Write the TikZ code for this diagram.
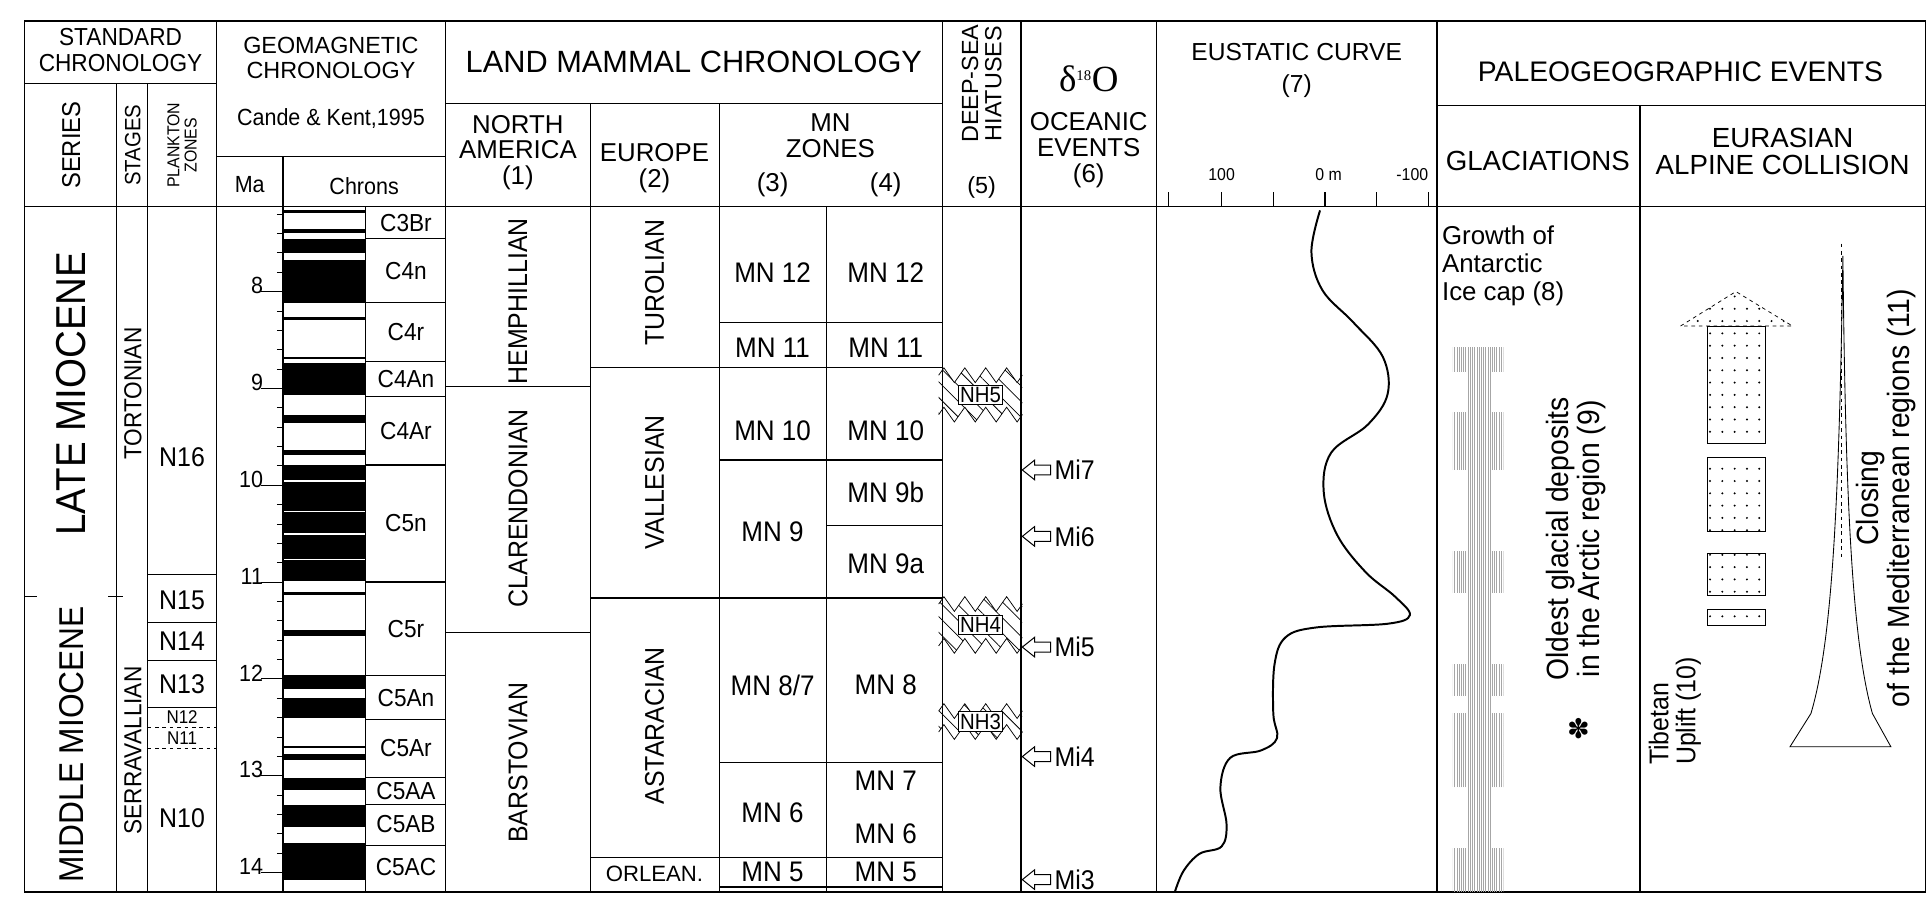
\documentclass[tikz,border=0pt]{standalone}
\usepackage{fontspec}
\setmainfont[FakeStretch=0.92]{Liberation Sans}
\newfontfamily\wideface{Liberation Sans}
\newfontfamily\serifface{Liberation Serif}
\newfontfamily\symfont{DejaVu Sans}
\usetikzlibrary{patterns.meta,decorations.pathmorphing}
\tikzset{
 fs/.style={font=\fontsize{#1}{#1}\selectfont},
 wfs/.style={font=\fontsize{#1}{#1}\selectfont\wideface},
 lbl/.style={inner sep=0pt,align=center},
 rule/.style={line width=1pt},
 band/.style={fill=black},
 ice/.style={pattern={Lines[angle=90,distance=1.8pt,line width=0.8pt]},pattern color=gray!70},
 stipple/.style={draw,line width=0.6pt,pattern={Dots[distance=10pt,radius=0.9pt]}},
 hollowarrow/.style={draw,line width=0.8pt,fill=white},
 hiatus/.style={pattern={Lines[angle=-45,distance=9pt,line width=0.6pt]}},
 zz/.style={decoration={zigzag,segment length=17pt,amplitude=6pt}},
}
\newcommand\miarrow[1]{\draw[hollowarrow] (831,#1) -- (841,#1-8) -- (841,#1-4) -- (854,#1-4) -- (854,#1+4) -- (841,#1+4) -- (841,#1+8) -- cycle;}
\newcommand\hiat[4]{%
 \fill[hiatus] (763,#2) decorate[zz]{-- (831,#2)} -- (831,#3) decorate[zz]{-- (763,#3)} -- cycle;
 \draw[line width=0.6pt] (763,#2) decorate[zz]{-- (831,#2)};
 \draw[line width=0.6pt] (763,#3) decorate[zz]{-- (831,#3)};
 \node[draw,fill=white,inner sep=1.5pt,fs=18,line width=0.7pt] (#1) at (797,{(#2+#3)/2}) {#4};}
\begin{document}
\begin{tikzpicture}[x=1pt,y=-1pt]
\useasboundingbox (0,0) rectangle (1568,731);
% ---------- polarity bands
\foreach \a/\b in {171/173,186/189,194/206,211/246,258/260,290/292,295/321,337/344,366/370,378/472,481/484,512/517,549/560,567/584,606/608,613/618,632/642,654/672,685/715}
  \fill[band] (231,\a) rectangle (297,\b);
\foreach \a in {390,415,433,454} \fill[white] (231,\a) rectangle (297,\a+1.5);
% ---------- frame and rules
\begin{scope}[rule]
\draw (20,17) rectangle (1565,725);
\draw (20,68) -- (176,68);
\draw (95,68) -- (95,725);
\draw (120,68) -- (120,725);
\draw (176,17) -- (176,725);
\draw (20,168) -- (1565,168);
\draw (176,127) -- (362,127);
\draw (230,127) -- (230,725);
\draw (297,168) -- (297,725);
\draw (362,17) -- (362,725);
\draw (362,84) -- (766,84);
\draw (480,84) -- (480,725);
\draw (585,84) -- (585,725);
\draw (672,168) -- (672,725);
\draw (766,17) -- (766,725);
\draw (830,17) -- (830,725);
\draw (940,17) -- (940,725);
\draw (1168,17) -- (1168,725);
\draw (1168,86) -- (1565,86);
\draw (1333,86) -- (1333,725);
\draw (20,485) -- (30,485);
\draw (88,485) -- (100,485);
\foreach \y in {194,246,294,322,378,473,549,585,632,654,687} \draw (297,\y) -- (362,\y);
\foreach \y in {467,506,537,575} \draw (120,\y) -- (176,\y);
\draw[dashed,line width=0.7pt] (120,591) -- (176,591);
\draw[dashed,line width=0.7pt] (120,608) -- (176,608);
\draw (362,314) -- (480,314);
\draw (362,514) -- (480,514);
\foreach \y in {299,486,697} \draw (480,\y) -- (585,\y);
\foreach \y in {262,299,374,486,620,697,721} \draw (585,\y) -- (766,\y);
\draw (672,427) -- (766,427);
\foreach \x in {950,993,1035,1077,1119,1161} \draw (\x,168) -- (\x,156);
\end{scope}
% ---------- Ma ticks
\foreach \k in {0,...,35} {\pgfmathsetmacro\yy{237+(7.2+0.2*\k-8)*78.7}
  \draw[line width=0.7pt] (225,\yy) -- (230,\yy);}
\foreach \m in {8,...,14} {\pgfmathsetmacro\yy{237+(\m-8)*78.7}
  \draw[line width=0.8pt] (212,\yy) -- (230,\yy);
  \node[fs=19,anchor=south east,inner sep=1pt] (ma\m) at (215,\yy+3) {\m};}
% ---------- header texts
\node[lbl,fs=20] (stdc) at (98,41) {STANDARD\\[1pt]CHRONOLOGY};
\node[lbl,fs=21,rotate=90] (ser) at (58,118) {SERIES};
\node[lbl,fs=18,rotate=90] (stg) at (108,118) {STAGES};
\node[lbl,fs=14,rotate=90] (plk) at (148,118) {PLANKTON\\ZONES};
\node[lbl,wfs=19] (geo) at (269,47) {GEOMAGNETIC\\[1pt]CHRONOLOGY};
\node[lbl,fs=19] (cande) at (269,96) {Cande \& Kent,1995};
\node[lbl,fs=19] (mah) at (203,150) {Ma};
\node[lbl,fs=19] (chh) at (296,151) {Chrons};
\node[lbl,wfs=25] (lmc) at (564,50) {LAND MAMMAL CHRONOLOGY};
\node[lbl,wfs=21] (na) at (421,124) {NORTH\\AMERICA\\(1)};
\node[lbl,wfs=21] (eu) at (532,137) {EUROPE\\(2)};
\node[lbl,wfs=21] (mnz) at (675,110) {MN\\ZONES};
\node[lbl,wfs=21] (mn3h) at (628,150) {(3)};
\node[lbl,wfs=21] (mn4h) at (720,150) {(4)};
\node[lbl,wfs=19,rotate=90] (dsh) at (798,68) {DEEP-SEA\\HIATUSES};
\node[lbl,wfs=19] (dsn) at (798,152) {(5)};
\node[lbl,font=\fontsize{30}{30}\selectfont\serifface] (d18) at (885,64) {δ\textsuperscript{\fontsize{12}{12}\selectfont 18}O};
\node[lbl,wfs=21] (oce) at (885,122) {OCEANIC\\EVENTS\\(6)};
\node[lbl,wfs=20] (eus) at (1054,57) {EUSTATIC CURVE\\[6pt](7)};
\node[lbl,fs=14] (e100) at (993,142) {100};
\node[lbl,fs=14] (e0) at (1080,142) {0 m};
\node[lbl,fs=14] (em100) at (1148,142) {-100};
\node[lbl,wfs=23] (pal) at (1366,58) {PALEOGEOGRAPHIC EVENTS};
\node[lbl,wfs=22.5] (gla) at (1250,131) {GLACIATIONS};
\node[lbl,wfs=22.5] (eur) at (1449,123) {EURASIAN\\ALPINE COLLISION};
% ---------- series / stages / plankton
\node[lbl,fs=34,rotate=90] (late) at (58,320) {LATE MIOCENE};
\node[lbl,fs=28,rotate=90] (mid) at (58,605) {MIDDLE MIOCENE};
\node[lbl,fs=20,rotate=90] (tor) at (108,320) {TORTONIAN};
\node[lbl,fs=20,rotate=90] (serr) at (108,610) {SERRAVALLIAN};
\node[lbl,fs=22] (n16) at (148,372) {N16};
\node[lbl,fs=22] (n15) at (148,488) {N15};
\node[lbl,fs=22] (n14) at (148,521) {N14};
\node[lbl,fs=22] (n13) at (148,556) {N13};
\node[lbl,fs=15] (n12) at (148,583) {N12};
\node[lbl,fs=15] (n11) at (148,600) {N11};
\node[lbl,fs=22] (n10) at (148,665) {N10};
% ---------- chrons
\foreach \n/\y in {C3Br/181,C4n/220,C4r/270,C4An/308,C4Ar/350,C5n/425,C5r/511,C5An/567,C5Ar/608,C5AA/643,C5AB/670,C5AC/705}
  \node[lbl,fs=20] (\n) at (330,\y) {\n};
% ---------- land mammal
\node[lbl,fs=22,rotate=90] (hem) at (421,245) {HEMPHILLIAN};
\node[lbl,fs=22,rotate=90] (cla) at (421,413) {CLARENDONIAN};
\node[lbl,fs=22,rotate=90] (bar) at (421,620) {BARSTOVIAN};
\node[lbl,fs=22,rotate=90] (tur) at (532,230) {TUROLIAN};
\node[lbl,fs=22,rotate=90] (val) at (532,392) {VALLESIAN};
\node[lbl,fs=22,rotate=90] (ast) at (532,590) {ASTARACIAN};
\node[lbl,wfs=18] (orl) at (532,710) {ORLEAN.};
\foreach \nm/\x/\y/\t in {a/628/222/MN 12,b/720/222/MN 12,c/628/283/MN 11,d/720/283/MN 11,e/628/350/MN 10,f/720/350/MN 10,g/628/432/MN 9,h/720/400/MN 9b,i/720/458/MN 9a,k/720/557/MN 8,l/628/661/MN 6,m/720/635/MN 7,n/720/678/MN 6,o/628/709/MN 5,p/720/709/MN 5}
  \node[lbl,fs=23] (mn\nm) at (\x,\y) {\t};
\node[lbl,fs=23] (mnj) at (628,557) {MN 8/7};
% ---------- hiatuses
\hiat{nh5}{305}{337}{NH5}
\hiat{nh4}{491}{525}{NH4}
\hiat{nh3}{578}{595}{NH3}
% ---------- oceanic events
\foreach \n/\y in {Mi7/382,Mi6/436,Mi5/526,Mi4/615,Mi3/715}{
  \miarrow{\y}
  \node[fs=22,anchor=west,inner sep=0pt] (\n) at (857,\y) {\n};}
% ---------- eustatic curve
\draw[line width=1.6pt] plot[smooth,tension=0.6] coordinates {(1073,171) (1066,205) (1075,236) (1100,262) (1124,290) (1128,320) (1112,345) (1082,368) (1076,400) (1087,435) (1110,465) (1134,485) (1146,500) (1128,507) (1070,510) (1045,518) (1036,540) (1035,580) (1038,600) (1025,610) (1000,616) (992,640) (997,670) (993,688) (975,694) (962,708) (955,725)};
% ---------- glaciations
\node[lbl,wfs=21,align=left,anchor=north west] (ant) at (1172,183) {Growth of\\[2pt]Antarctic\\[2pt]Ice cap (8)};
\fill[ice] (1192,282) rectangle (1212,725);
\foreach \a/\b in {282/302,335/382,448/482,540/565,580/640,690/725}
  \fill[ice] (1181,\a) rectangle (1222,\b);
\node[lbl,fs=25,rotate=90] (old) at (1281,438) {Oldest glacial deposits\\in the Arctic region (9)};
\node[lbl,font=\fontsize{22}{22}\selectfont\symfont] (ast9) at (1283,592) {✽};
% ---------- alpine collision
\fill[pattern={Dots[distance=10pt,radius=0.9pt]}] (1366,265) -- (1411,237) -- (1457,265) -- cycle;
\draw[dashed,line width=0.6pt] (1366,265) -- (1411,237) -- (1457,265) -- cycle;
\draw[stipple] (1388,265) rectangle (1435,360);
\draw[stipple] (1388,372) rectangle (1435,432);
\draw[stipple] (1388,450) rectangle (1435,484);
\draw[stipple] (1388,495) rectangle (1435,508);
\node[lbl,fs=22,rotate=90,anchor=north west,align=left] (tib) at (1340,622) {Tibetan\\Uplift (10)};
\draw[line width=0.7pt] (1455,607) -- (1537,607) -- (1522,580) .. controls (1505,520) and (1500,400) .. (1498,208) .. controls (1495,400) and (1490,520) .. (1472,580) -- cycle;
\draw[dashed,line width=0.6pt] (1497,198) -- (1497,455);
\node[lbl,fs=25,rotate=90] (clo) at (1533,405) {Closing\\of the Mediterranean regions (11)};
\end{tikzpicture}
\end{document}
